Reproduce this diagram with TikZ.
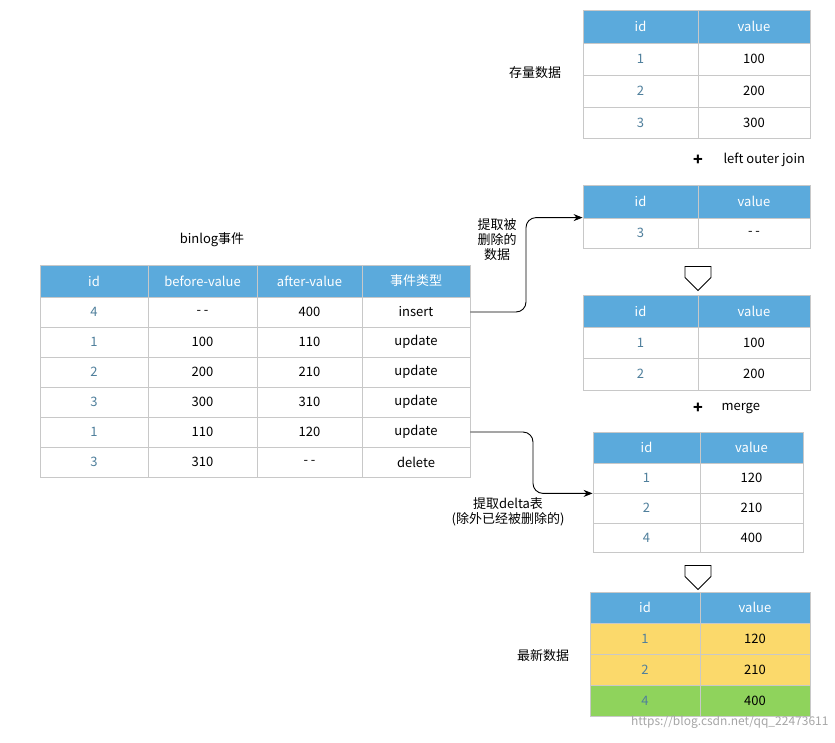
\documentclass[tikz,border=0pt]{standalone}
\usepackage{fontspec}
\setmainfont{Noto Sans CJK SC}
\usetikzlibrary{positioning,arrows.meta,shapes.arrows}
\definecolor{headblue}{HTML}{5BAADC}
\definecolor{idcol}{HTML}{4F7F9C}
\definecolor{gridgray}{HTML}{C8C8C8}
\definecolor{newyellow}{HTML}{FBD96B}
\definecolor{newgreen}{HTML}{8FD35C}
% cell: name, x1, y1, x2, y2, fill, text colour, text
\newcommand{\tcell}[8]{%
  \node[cellbox, fill=#6, text=#7, minimum width={(#4-#2)*1pt}, minimum height={(#5-#3)*1pt}]
    (#1) at ({(#2+#4)/2},{(#3+#5)/2}) {#8};}
\begin{document}
\begin{tikzpicture}[x=1pt,y=-1pt,
    cellbox/.style={draw=gridgray, line width=0.8pt, inner sep=0pt, font=\fontsize{13}{15}\selectfont},
    lbl/.style={font=\fontsize{13}{16}\selectfont, align=center},
    hollow/.style={draw=black, fill=white, line width=0.9pt, single arrow, shape border rotate=270,
      minimum height=24pt, minimum width=26pt, single arrow head extend=0pt, single arrow tip angle=90, inner sep=3pt}]
\useasboundingbox (0,0) rectangle (835,742);

%% binlog events
\node[lbl] (binlogtitle) at (212,240) {binlog事件};
\foreach \c/\xa/\xb/\t in {1/40/148/id,2/148/257/before-value,3/257/362/after-value,4/362/470/事件类型}
  {\tcell{b-0-\c}{\xa}{265}{\xb}{297}{headblue}{white}{\t}}
\foreach \r/\ya/\yb/\i/\bv/\av/\ev in {1/297/327/4/- -/400/insert,2/327/357/1/100/110/update,
    3/357/387/2/200/210/update,4/387/417/3/300/310/update,5/417/447/1/110/120/update,6/447/477/3/310/- -/delete}
  {\tcell{b-\r-1}{40}{\ya}{148}{\yb}{white}{idcol}{\i}
   \tcell{b-\r-2}{148}{\ya}{257}{\yb}{white}{black}{\bv}
   \tcell{b-\r-3}{257}{\ya}{362}{\yb}{white}{black}{\av}
   \tcell{b-\r-4}{362}{\ya}{470}{\yb}{white}{black}{\ev}}

%% stock data
\node[lbl] (stocklbl) at (535,73) {存量数据};
\tcell{s-0-1}{583}{10}{698}{43}{headblue}{white}{id}
\tcell{s-0-2}{698}{10}{810}{43}{headblue}{white}{value}
\foreach \r/\ya/\yb/\i/\v in {1/43/75/1/100,2/75/107/2/200,3/107/138/3/300}
  {\tcell{s-\r-1}{583}{\ya}{698}{\yb}{white}{idcol}{\i}
   \tcell{s-\r-2}{698}{\ya}{810}{\yb}{white}{black}{\v}}
\node[font=\bfseries\fontsize{16}{16}\selectfont] (plus1) at (698,160) {+};
\node[lbl, anchor=west] (joinlbl) at (720,160) {left outer join};

%% deleted rows
\tcell{d-0-1}{583}{185}{698}{218}{headblue}{white}{id}
\tcell{d-0-2}{698}{185}{810}{218}{headblue}{white}{value}
\tcell{d-1-1}{583}{218}{698}{248}{white}{idcol}{3}
\tcell{d-1-2}{698}{218}{810}{248}{white}{black}{- -}
\node[hollow] (down1) at (698,272) {};

%% joined result
\tcell{j-0-1}{583}{295}{698}{327}{headblue}{white}{id}
\tcell{j-0-2}{698}{295}{810}{327}{headblue}{white}{value}
\foreach \r/\ya/\yb/\i/\v in {1/327/358/1/100,2/358/390/2/200}
  {\tcell{j-\r-1}{583}{\ya}{698}{\yb}{white}{idcol}{\i}
   \tcell{j-\r-2}{698}{\ya}{810}{\yb}{white}{black}{\v}}
\node[font=\bfseries\fontsize{16}{16}\selectfont] (plus2) at (698,408) {+};
\node[lbl, anchor=west] (mergelbl) at (718,408) {merge};

%% delta table
\tcell{t-0-1}{593}{432}{700}{463}{headblue}{white}{id}
\tcell{t-0-2}{700}{432}{803}{463}{headblue}{white}{value}
\foreach \r/\ya/\yb/\i/\v in {1/463/493/1/120,2/493/523/2/210,3/523/552/4/400}
  {\tcell{t-\r-1}{593}{\ya}{700}{\yb}{white}{idcol}{\i}
   \tcell{t-\r-2}{700}{\ya}{803}{\yb}{white}{black}{\v}}
\node[hollow] (down2) at (698,571) {};

%% latest data
\node[lbl] (latestlbl) at (543,656) {最新数据};
\tcell{n-0-1}{590}{592}{700}{623}{headblue}{white}{id}
\tcell{n-0-2}{700}{592}{810}{623}{headblue}{white}{value}
\foreach \r/\ya/\yb/\i/\v/\f in {1/623/654/1/120/newyellow,2/654/685/2/210/newyellow,3/685/716/4/400/newgreen}
  {\tcell{n-\r-1}{590}{\ya}{700}{\yb}{\f}{idcol}{\i}
   \tcell{n-\r-2}{700}{\ya}{810}{\yb}{\f}{black}{\v}}

%% connectors
\draw[-{Stealth[length=9pt,width=7pt]}, line width=0.9pt, rounded corners=10pt]
  (b-1-4.east) -| (526,250) |- (d-1-1.north west);
\node[lbl, font=\fontsize{13}{15}\selectfont] (dellbl) at (497,240) {提取被\\删除的\\数据};
\draw[-{Stealth[length=9pt,width=7pt]}, line width=0.9pt, rounded corners=10pt]
  (b-5-4.east) -| (533,470) |- (t-1-1.south west);
\node[lbl, font=\fontsize{13}{15}\selectfont] (deltalbl) at (508,512) {提取delta表\\(除外已经被删除的)};

\node[font=\fontsize{12}{12}\selectfont, text=gray!70, anchor=east] (wm) at (832,722) {https://blog.csdn.net/qq\_22473611};
\end{tikzpicture}
\end{document}
